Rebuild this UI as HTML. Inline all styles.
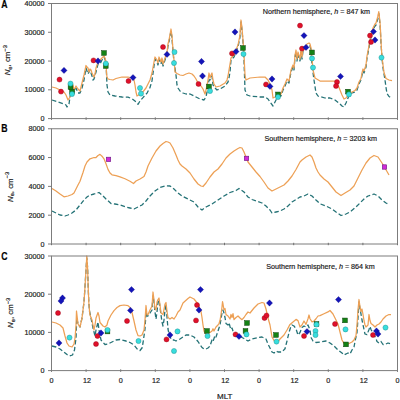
<!DOCTYPE html>
<html><head><meta charset="utf-8"><style>
html,body{margin:0;padding:0;background:#fff;width:400px;height:400px;overflow:hidden}
text{font-family:"Liberation Sans",sans-serif;fill:#1a1a1a;stroke:#1a1a1a;stroke-width:0.18px}
.tk{font-size:7.2px}
.tt{font-size:7px}
.pl{font-size:9px;font-weight:bold;fill:#000}
.ti{font-size:7.2px}
.ml{font-size:8px}
.yl{font-size:7.8px}
</style></head><body>
<svg width="400" height="400" viewBox="0 0 400 400" style="display:block">
<rect width="400" height="400" fill="#fff"/>
<line x1="48" y1="3.50" x2="51.5" y2="3.50" stroke="#7c7c7c" stroke-width="1"/>
<text x="44.5" y="6.10" text-anchor="end" class="tk">40000</text>
<line x1="48" y1="32.27" x2="51.5" y2="32.27" stroke="#7c7c7c" stroke-width="1"/>
<text x="44.5" y="34.88" text-anchor="end" class="tk">30000</text>
<line x1="48" y1="61.05" x2="51.5" y2="61.05" stroke="#7c7c7c" stroke-width="1"/>
<text x="44.5" y="63.65" text-anchor="end" class="tk">20000</text>
<line x1="48" y1="89.82" x2="51.5" y2="89.82" stroke="#7c7c7c" stroke-width="1"/>
<text x="44.5" y="92.42" text-anchor="end" class="tk">10000</text>
<line x1="48" y1="118.60" x2="51.5" y2="118.60" stroke="#7c7c7c" stroke-width="1"/>
<text x="44.5" y="121.20" text-anchor="end" class="tk">0</text>
<line x1="51.50" y1="117.40" x2="51.50" y2="119.80" stroke="#555" stroke-width="0.9"/>
<line x1="86.10" y1="117.40" x2="86.10" y2="119.80" stroke="#555" stroke-width="0.9"/>
<line x1="120.70" y1="117.40" x2="120.70" y2="119.80" stroke="#555" stroke-width="0.9"/>
<line x1="155.30" y1="117.40" x2="155.30" y2="119.80" stroke="#555" stroke-width="0.9"/>
<line x1="189.90" y1="117.40" x2="189.90" y2="119.80" stroke="#555" stroke-width="0.9"/>
<line x1="224.50" y1="117.40" x2="224.50" y2="119.80" stroke="#555" stroke-width="0.9"/>
<line x1="259.10" y1="117.40" x2="259.10" y2="119.80" stroke="#555" stroke-width="0.9"/>
<line x1="293.70" y1="117.40" x2="293.70" y2="119.80" stroke="#555" stroke-width="0.9"/>
<line x1="328.30" y1="117.40" x2="328.30" y2="119.80" stroke="#555" stroke-width="0.9"/>
<line x1="362.90" y1="117.40" x2="362.90" y2="119.80" stroke="#555" stroke-width="0.9"/>
<line x1="397.50" y1="117.40" x2="397.50" y2="119.80" stroke="#555" stroke-width="0.9"/>
<text transform="translate(1.2 7.8) scale(0.97 1.12)" class="pl">A</text>
<text x="262.7" y="14.2" class="ti">Northern hemisphere, <tspan font-style="italic">h</tspan> = 847 km</text>
<text transform="translate(10.2 60.2) rotate(-90)" text-anchor="middle" class="yl"><tspan font-style="italic">N</tspan><tspan font-size="5.8" dy="1.7">e</tspan><tspan dy="-1.7">, cm</tspan><tspan font-size="5.8" dy="-3.3">−3</tspan></text>
<line x1="48" y1="128.75" x2="51.5" y2="128.75" stroke="#7c7c7c" stroke-width="1"/>
<text x="44.5" y="131.35" text-anchor="end" class="tk">8000</text>
<line x1="48" y1="157.56" x2="51.5" y2="157.56" stroke="#7c7c7c" stroke-width="1"/>
<text x="44.5" y="160.16" text-anchor="end" class="tk">6000</text>
<line x1="48" y1="186.38" x2="51.5" y2="186.38" stroke="#7c7c7c" stroke-width="1"/>
<text x="44.5" y="188.97" text-anchor="end" class="tk">4000</text>
<line x1="48" y1="215.19" x2="51.5" y2="215.19" stroke="#7c7c7c" stroke-width="1"/>
<text x="44.5" y="217.79" text-anchor="end" class="tk">2000</text>
<line x1="48" y1="244.00" x2="51.5" y2="244.00" stroke="#7c7c7c" stroke-width="1"/>
<text x="44.5" y="246.60" text-anchor="end" class="tk">0</text>
<line x1="51.50" y1="242.80" x2="51.50" y2="245.20" stroke="#555" stroke-width="0.9"/>
<line x1="86.10" y1="242.80" x2="86.10" y2="245.20" stroke="#555" stroke-width="0.9"/>
<line x1="120.70" y1="242.80" x2="120.70" y2="245.20" stroke="#555" stroke-width="0.9"/>
<line x1="155.30" y1="242.80" x2="155.30" y2="245.20" stroke="#555" stroke-width="0.9"/>
<line x1="189.90" y1="242.80" x2="189.90" y2="245.20" stroke="#555" stroke-width="0.9"/>
<line x1="224.50" y1="242.80" x2="224.50" y2="245.20" stroke="#555" stroke-width="0.9"/>
<line x1="259.10" y1="242.80" x2="259.10" y2="245.20" stroke="#555" stroke-width="0.9"/>
<line x1="293.70" y1="242.80" x2="293.70" y2="245.20" stroke="#555" stroke-width="0.9"/>
<line x1="328.30" y1="242.80" x2="328.30" y2="245.20" stroke="#555" stroke-width="0.9"/>
<line x1="362.90" y1="242.80" x2="362.90" y2="245.20" stroke="#555" stroke-width="0.9"/>
<line x1="397.50" y1="242.80" x2="397.50" y2="245.20" stroke="#555" stroke-width="0.9"/>
<text transform="translate(1.2 131.8) scale(0.97 1.12)" class="pl">B</text>
<text x="264.5" y="140.5" class="ti">Southern hemisphere, <tspan font-style="italic">h</tspan> = 3203 km</text>
<text transform="translate(12.5 186.9) rotate(-90)" text-anchor="middle" class="yl"><tspan font-style="italic">N</tspan><tspan font-size="5.8" dy="1.7">e</tspan><tspan dy="-1.7">, cm</tspan><tspan font-size="5.8" dy="-3.3">−3</tspan></text>
<line x1="48" y1="256.00" x2="51.5" y2="256.00" stroke="#7c7c7c" stroke-width="1"/>
<text x="44.5" y="258.60" text-anchor="end" class="tk">30000</text>
<line x1="48" y1="294.20" x2="51.5" y2="294.20" stroke="#7c7c7c" stroke-width="1"/>
<text x="44.5" y="296.80" text-anchor="end" class="tk">20000</text>
<line x1="48" y1="332.40" x2="51.5" y2="332.40" stroke="#7c7c7c" stroke-width="1"/>
<text x="44.5" y="335.00" text-anchor="end" class="tk">10000</text>
<line x1="48" y1="370.60" x2="51.5" y2="370.60" stroke="#7c7c7c" stroke-width="1"/>
<text x="44.5" y="373.20" text-anchor="end" class="tk">0</text>
<line x1="51.50" y1="369.40" x2="51.50" y2="371.80" stroke="#555" stroke-width="0.9"/>
<line x1="86.10" y1="369.40" x2="86.10" y2="371.80" stroke="#555" stroke-width="0.9"/>
<line x1="120.70" y1="369.40" x2="120.70" y2="371.80" stroke="#555" stroke-width="0.9"/>
<line x1="155.30" y1="369.40" x2="155.30" y2="371.80" stroke="#555" stroke-width="0.9"/>
<line x1="189.90" y1="369.40" x2="189.90" y2="371.80" stroke="#555" stroke-width="0.9"/>
<line x1="224.50" y1="369.40" x2="224.50" y2="371.80" stroke="#555" stroke-width="0.9"/>
<line x1="259.10" y1="369.40" x2="259.10" y2="371.80" stroke="#555" stroke-width="0.9"/>
<line x1="293.70" y1="369.40" x2="293.70" y2="371.80" stroke="#555" stroke-width="0.9"/>
<line x1="328.30" y1="369.40" x2="328.30" y2="371.80" stroke="#555" stroke-width="0.9"/>
<line x1="362.90" y1="369.40" x2="362.90" y2="371.80" stroke="#555" stroke-width="0.9"/>
<line x1="397.50" y1="369.40" x2="397.50" y2="371.80" stroke="#555" stroke-width="0.9"/>
<text transform="translate(1.2 259.5) scale(0.97 1.12)" class="pl">C</text>
<text x="266.2" y="269.2" class="ti">Southern hemisphere, <tspan font-style="italic">h</tspan> = 864 km</text>
<text transform="translate(13.0 312.8) rotate(-90)" text-anchor="middle" class="yl"><tspan font-style="italic">N</tspan><tspan font-size="5.8" dy="1.7">e</tspan><tspan dy="-1.7">, cm</tspan><tspan font-size="5.8" dy="-3.3">−3</tspan></text>
<path d="M52,100 L58,102 L64,104 L66,105 L67,107 L69,104 L70,97 L71,92 L72,88 L73,86 L74,92 L76,88 L78,93 L80,93 L82,88 L84,80 L86,68 L88,74 L90,70 L92,76 L93,80 L94,79 L96,72 L98,64 L100,64 L102,60 L104,57 L106,62 L107,85 L108,92 L110,95 L115,96 L122,97 L128,97.2 L132,98.7 L135,101 L138,104.3 L140,101 L143,97.6 L147,93.1 L150,87.5 L152,80.7 L154,66 L155,59 L157,62 L158,65 L159,59 L161,64 L162,60 L163,66 L165,60 L167,54 L168,46 L169,42 L171,31 L172,38 L173,52 L174,62 L176,75 L177,85 L178,88 L180,91 L183,93 L186,94 L190,94 L196,97 L200,99 L204,100 L206,97 L207,92 L208,86 L209,80 L210,80 L211,77 L212,76 L213,85 L215,88 L217,90 L220,89 L225,86 L228,82 L229,78 L230,72 L231,60 L234,57 L236,52 L238,47 L240,37 L241,22 L242,30 L243,42 L244,60 L245,90 L247,95 L250,96 L260,97 L265,97 L268,99 L270,102 L273,106 L276,100 L278,97 L281,96 L283,90 L285,86 L287,81 L289,83 L291,72 L293,67 L294,70 L295,57 L296,52 L297,61 L298,54 L300,61 L301,52 L302,59 L303,51 L305,49 L307,46 L309,45 L310,46 L311,50 L312,65 L314,80 L316,93 L318,96 L325,98 L330,98 L335,100 L340,104 L342,106 L344,107 L346,103 L348,98 L350,93 L352,93 L355,92 L357,90 L359,84 L361,80 L362,75 L363,71 L364,73 L366,67 L367,58 L368,53 L370,42 L371,37 L373,30 L374.7,26.5 L376,25 L377.7,19 L378.8,13.5 L380,24 L381,43 L382,58 L383,68 L385,80 L386,87.5 L387,93.5 L389,96.5 L392,98" fill="none" stroke="#247276" stroke-width="1.3" stroke-dasharray="4.5,2.4" stroke-linejoin="round"/>
<path d="M52,87 L56,88 L60,90 L64,92 L66,95 L68,100 L70,97 L71,92 L72,87 L73,85 L74,90 L76,86 L78,89 L80,91 L82,83 L84,75 L86,65.5 L87,67 L88,68 L89,72 L90,69 L91,70 L92,73 L93,75 L94,77 L95,74 L96,68 L97,65 L98,62 L101,59 L103,57 L104,56 L105,58 L106,62 L106.5,73 L107,77 L108,79 L110,79.5 L113,80 L116,78.5 L122,77 L128,77 L132,78 L134,80 L135,85 L136,92 L137,96 L142,93 L146,88 L150,80 L152,73 L154,62 L155,57 L157,60 L158,63 L159,57 L161,62 L162,58 L163,64 L165,58 L167,52 L168,44 L169,40 L171,29 L172,36 L173,50 L174,60 L175,72 L177,73.5 L180,75 L183,75.5 L186,74 L189,73 L192,74 L194,76 L196,79 L198,83 L201,86 L203,89 L205,94 L206,90 L208,80 L209,73 L210,78 L211,75 L212,73 L213,80 L214,84 L216,87 L220,86 L225,83 L227,80 L228,76 L229,70 L230,64 L231,58 L234,55 L236,50 L238,45 L240,35 L241,20 L242,28 L243,40 L244,55 L245,75 L246,80 L250,78 L260,77 L265,77 L268,80 L270,84 L272,90 L273,98 L275,97 L278,95 L281,94 L283,88 L285,84 L287,79 L289,81 L291,70 L293,65 L294,68 L295,55 L296,50 L297,59 L298,52 L300,59 L301,50 L302,57 L303,49 L305,47 L307,44 L309,43 L310,44 L311,48 L312,58 L313,70 L315,78 L320,81 L330,81 L335,81 L338,85 L340,90 L342,95 L344,99 L346,98 L348,95 L352,92 L355,90.5 L357,88 L359,82 L361,78.5 L362,73 L363,69 L364,71 L366,65 L367,56 L368,51 L370,40 L371,35 L373,28 L374.7,24.5 L376,23 L377.7,17 L378.8,11.7 L380,22 L380.5,30 L381,41 L381.5,50 L382,57 L383,65 L384,72.5 L386,78.5 L389,80 L392,80.7" fill="none" stroke="#eda055" stroke-width="1.25" stroke-linejoin="round"/>
<path d="M64,67.25 L67.1,70.4 L64,73.55000000000001 L60.9,70.4 Z" fill="#1414b8" stroke="#0a0a80" stroke-width="0.3"/>
<circle cx="59.5" cy="79.6" r="2.5" fill="#e0102a" stroke="#9a0a1a" stroke-width="0.45"/>
<circle cx="61" cy="91.6" r="2.5" fill="#e0102a" stroke="#9a0a1a" stroke-width="0.45"/>
<rect x="68.15" y="84.65" width="4.7" height="4.7" fill="#148214" stroke="#0a400a" stroke-width="0.5"/>
<circle cx="70.5" cy="83.6" r="2.55" fill="#38dede" stroke="#1f8c8c" stroke-width="0.45"/>
<rect x="69.65" y="89.25" width="4.7" height="4.7" fill="#148214" stroke="#0a400a" stroke-width="0.5"/>
<circle cx="72" cy="94" r="2.55" fill="#38dede" stroke="#1f8c8c" stroke-width="0.45"/>
<circle cx="93.5" cy="60.4" r="2.5" fill="#e0102a" stroke="#9a0a1a" stroke-width="0.45"/>
<path d="M98,57.85 L101.1,61 L98,64.15 L94.9,61 Z" fill="#1414b8" stroke="#0a0a80" stroke-width="0.3"/>
<rect x="101.65" y="50.65" width="4.7" height="4.7" fill="#148214" stroke="#0a400a" stroke-width="0.5"/>
<rect x="103.45" y="63.65" width="4.7" height="4.7" fill="#148214" stroke="#0a400a" stroke-width="0.5"/>
<circle cx="105.8" cy="63.5" r="2.55" fill="#38dede" stroke="#1f8c8c" stroke-width="0.45"/>
<circle cx="128.5" cy="81" r="2.5" fill="#e0102a" stroke="#9a0a1a" stroke-width="0.45"/>
<path d="M133,74.44999999999999 L136.1,77.6 L133,80.75 L129.9,77.6 Z" fill="#1414b8" stroke="#0a0a80" stroke-width="0.3"/>
<circle cx="140" cy="88" r="2.55" fill="#38dede" stroke="#1f8c8c" stroke-width="0.45"/>
<circle cx="141" cy="93.6" r="2.55" fill="#38dede" stroke="#1f8c8c" stroke-width="0.45"/>
<circle cx="163" cy="47" r="2.5" fill="#e0102a" stroke="#9a0a1a" stroke-width="0.45"/>
<path d="M167,51.25 L170.1,54.4 L167,57.55 L163.9,54.4 Z" fill="#1414b8" stroke="#0a0a80" stroke-width="0.3"/>
<circle cx="174.5" cy="52" r="2.55" fill="#38dede" stroke="#1f8c8c" stroke-width="0.45"/>
<circle cx="174" cy="63" r="2.55" fill="#38dede" stroke="#1f8c8c" stroke-width="0.45"/>
<path d="M201.5,58.35 L204.6,61.5 L201.5,64.65 L198.4,61.5 Z" fill="#1414b8" stroke="#0a0a80" stroke-width="0.3"/>
<path d="M202.5,72.85 L205.6,76 L202.5,79.15 L199.4,76 Z" fill="#1414b8" stroke="#0a0a80" stroke-width="0.3"/>
<circle cx="198.5" cy="84" r="2.5" fill="#e0102a" stroke="#9a0a1a" stroke-width="0.45"/>
<rect x="206.65" y="84.15" width="4.7" height="4.7" fill="#148214" stroke="#0a400a" stroke-width="0.5"/>
<circle cx="210" cy="91" r="2.55" fill="#38dede" stroke="#1f8c8c" stroke-width="0.45"/>
<path d="M235,28.85 L238.1,32 L235,35.15 L231.9,32 Z" fill="#1414b8" stroke="#0a0a80" stroke-width="0.3"/>
<circle cx="232" cy="53.4" r="2.5" fill="#e0102a" stroke="#9a0a1a" stroke-width="0.45"/>
<path d="M236,48.45 L239.1,51.6 L236,54.75 L232.9,51.6 Z" fill="#1414b8" stroke="#0a0a80" stroke-width="0.3"/>
<rect x="240.65" y="45.65" width="4.7" height="4.7" fill="#148214" stroke="#0a400a" stroke-width="0.5"/>
<circle cx="243.5" cy="54" r="2.55" fill="#38dede" stroke="#1f8c8c" stroke-width="0.45"/>
<circle cx="266" cy="84.4" r="2.5" fill="#e0102a" stroke="#9a0a1a" stroke-width="0.45"/>
<path d="M272,75.85 L275.1,79 L272,82.15 L268.9,79 Z" fill="#1414b8" stroke="#0a0a80" stroke-width="0.3"/>
<path d="M270,83.25 L273.1,86.4 L270,89.55000000000001 L266.9,86.4 Z" fill="#1414b8" stroke="#0a0a80" stroke-width="0.3"/>
<rect x="275.65" y="92.05000000000001" width="4.7" height="4.7" fill="#148214" stroke="#0a400a" stroke-width="0.5"/>
<circle cx="278" cy="97" r="2.55" fill="#38dede" stroke="#1f8c8c" stroke-width="0.45"/>
<circle cx="300" cy="25.6" r="2.5" fill="#e0102a" stroke="#9a0a1a" stroke-width="0.45"/>
<path d="M304,32.45 L307.1,35.6 L304,38.75 L300.9,35.6 Z" fill="#1414b8" stroke="#0a0a80" stroke-width="0.3"/>
<circle cx="302" cy="48.6" r="2.5" fill="#e0102a" stroke="#9a0a1a" stroke-width="0.45"/>
<path d="M306,44.25 L309.1,47.4 L306,50.55 L302.9,47.4 Z" fill="#1414b8" stroke="#0a0a80" stroke-width="0.3"/>
<rect x="309.65" y="50.05" width="4.7" height="4.7" fill="#148214" stroke="#0a400a" stroke-width="0.5"/>
<circle cx="312" cy="58.4" r="2.55" fill="#38dede" stroke="#1f8c8c" stroke-width="0.45"/>
<circle cx="313" cy="67.6" r="2.55" fill="#38dede" stroke="#1f8c8c" stroke-width="0.45"/>
<path d="M340.5,73.25 L343.6,76.4 L340.5,79.55000000000001 L337.4,76.4 Z" fill="#1414b8" stroke="#0a0a80" stroke-width="0.3"/>
<circle cx="337" cy="82" r="2.5" fill="#e0102a" stroke="#9a0a1a" stroke-width="0.45"/>
<circle cx="336" cy="86" r="2.5" fill="#e0102a" stroke="#9a0a1a" stroke-width="0.45"/>
<rect x="345.65" y="89.25" width="4.7" height="4.7" fill="#148214" stroke="#0a400a" stroke-width="0.5"/>
<circle cx="349" cy="94.4" r="2.55" fill="#38dede" stroke="#1f8c8c" stroke-width="0.45"/>
<path d="M373.5,28.450000000000003 L376.6,31.6 L373.5,34.75 L370.4,31.6 Z" fill="#1414b8" stroke="#0a0a80" stroke-width="0.3"/>
<circle cx="370" cy="35.6" r="2.5" fill="#e0102a" stroke="#9a0a1a" stroke-width="0.45"/>
<path d="M375,36.85 L378.1,40 L375,43.15 L371.9,40 Z" fill="#1414b8" stroke="#0a0a80" stroke-width="0.3"/>
<circle cx="371" cy="42" r="2.5" fill="#e0102a" stroke="#9a0a1a" stroke-width="0.45"/>
<circle cx="381.5" cy="57.6" r="2.55" fill="#38dede" stroke="#1f8c8c" stroke-width="0.45"/>
<path d="M52,211 L56,213 L60,215 L65,216 L68,215 L72,213 L76,210 L80,205 L84,200 L87,197 L90,195 L94,194 L99,192.5 L102,195 L106,199 L111,203.5 L115,204 L120,205 L126,207 L130,208 L134,209 L138,207 L142,205 L146,201 L150,196 L155,191 L160,187.5 L166,185.8 L170,186 L174,189 L178,193 L182,196 L188,199 L194,202 L198,207 L202,210 L206,207 L212,204 L218,200 L224,196 L230,192.5 L236,190.5 L239,188.5 L244,192 L248,197 L252,199.5 L256,201 L262,203 L266,206 L270,210 L272,213 L276,212 L280,211 L284,209 L288,206 L292,202 L296,199.5 L300,197 L304,196 L308,194 L312,196 L316,200 L320,203.8 L326,206 L332,209 L336,212 L341,215.5 L346,214 L350,212 L356,207 L360,203 L364,199 L368,196 L374,194 L378,196 L382,200 L386,203 L389,204.5" fill="none" stroke="#247276" stroke-width="1.3" stroke-dasharray="4.5,2.4" stroke-linejoin="round"/>
<path d="M52,188.4 L56,191 L60,194 L64,196.8 L68,196 L72,194.5 L74,193 L76,189 L78,185 L80,181.2 L83,172.5 L85,166 L87,162 L90,158.8 L94,157.5 L96,157.5 L98,155.5 L100,154.4 L102,156.2 L104,158.8 L106,163.8 L108,169.4 L110,173 L112,174.8 L116,175.6 L120,176.9 L125,178.75 L130,181.25 L133.5,183.5 L136,181 L140,179 L144,176.5 L146,172 L148,166 L152,158 L156,151 L160,146 L163,143.5 L166,141.5 L168,142 L170,143 L173,148 L176,155 L178,160 L180,164 L182,166 L186,169 L190,173 L194,179 L198,184 L201,186 L203,186.5 L206,183 L210,177 L214,172 L218,169 L222,164 L226,158 L230,154 L234,151 L238,148.5 L240,147.5 L242,148 L244,152 L246,157 L248,162 L252,167 L256,172 L260,176.5 L264,182 L268,188 L272,191 L276,189 L280,187 L284,185 L288,181 L292,176 L296,169.5 L300,162 L302,160 L306,157 L310,155 L312,157 L314,162 L316,168 L318,172 L320,175 L324,179 L328,182 L332,187 L336,192 L341,195.5 L345,193 L350,190 L354,186 L358,178 L362,170 L366,163 L370,158 L374,155.5 L378,157 L382,163 L385,168 L389,175" fill="none" stroke="#eda055" stroke-width="1.25" stroke-linejoin="round"/>
<rect x="106.3" y="157.20000000000002" width="4.4" height="4.4" fill="#d22ad8" stroke="#6a1a80" stroke-width="0.6"/>
<rect x="244.3" y="156.20000000000002" width="4.4" height="4.4" fill="#d22ad8" stroke="#6a1a80" stroke-width="0.6"/>
<rect x="382.3" y="164.8" width="4.4" height="4.4" fill="#d22ad8" stroke="#6a1a80" stroke-width="0.6"/>
<path d="M52,346 L56,347 L60,349 L64,352 L67,354.5 L69.5,356 L72.5,355 L74.5,350 L76,338 L76.8,318 L78,324 L80,327 L82,318 L84,302 L85,287 L86,270 L86.8,258 L87.6,268 L88.3,290 L88.8,302 L89.5,311 L91,318 L93,328 L95,336 L96,330 L98,322 L99,330 L101,340 L105,344.5 L108,344 L112,342 L116,340 L120,339.5 L126,341 L130,342.5 L134,345 L138,350 L140,350.5 L142,348 L143,343 L144,336 L145,329 L146,312 L147,316 L148,316 L150,313 L152,310 L153,296 L154,302 L155,312 L156,319 L157,312 L158,302 L159,300 L160,307 L161,315 L162,322 L163,326 L164,320 L165,310 L166,305 L167,317 L168,329 L169,334 L170,337 L172,340 L174,340 L176,341 L178,340 L180,339 L186,335 L190,335 L194,337 L198,341.5 L200,344.5 L202,347.5 L204,349 L206,349 L208,348 L210,346 L211,343 L212,340 L213,341.5 L214,338.5 L215,335.5 L216,337 L217,334 L219,328 L220,325 L221,319 L222,313 L223,310 L224,313 L225,317.5 L226,323.5 L228,325 L229,322.7 L230,326.5 L231,329.5 L232,328 L233,331 L234,332.5 L236,333 L238,335.5 L241,337 L244,338.5 L248,341 L252,339 L258,337.5 L262,337 L266,339 L268,344 L270,348 L272,352 L274,353 L276,351 L278,352 L282,352 L285,348.75 L287,341 L289,332.5 L291,326 L292,325 L294,326 L296,328.75 L298,335 L300,332.5 L302,327.5 L304,326 L306,327 L308,325 L310,330 L311,337.5 L313,341 L316,342.5 L320,342 L326,341 L330,343 L334,346 L338,350 L342,353 L344,355 L348,353 L350,354 L352,350 L354,347 L355,341.5 L357,332.5 L358,318 L359,302 L360,309 L361,314 L362,320 L364,329.5 L365,334 L367,334.7 L369,329.5 L370,326.5 L371,329.5 L373,333 L376,338.5 L377,341.5 L379,343 L381,341.5 L383,344.5 L385,344.5 L388,343 L390,343.7" fill="none" stroke="#247276" stroke-width="1.3" stroke-dasharray="4.5,2.4" stroke-linejoin="round"/>
<path d="M52,322 L56,323 L60,325 L63,328 L65,336 L67,343 L69,346 L72,347 L74,344 L75,338 L76,326 L76.5,311 L78,324 L80,327 L82,318 L84,302 L85,287 L86,270 L86.8,256 L87.6,268 L88.3,290 L88.8,302 L89.5,311 L90,315 L92,320 L93,325 L94,330 L95,325 L96,318 L98,312.5 L99,316 L100,322.5 L103,326 L105,327 L107,325 L108,321 L111,315 L114,310.6 L117,307.5 L120,305.6 L124,305 L128,305.6 L130,307.5 L132,312.5 L134,321 L136,330 L138,335.6 L140,336 L142,335 L144,330 L145,320 L146,305.5 L147,315 L148,314.5 L150,310 L152,306 L153,292 L154,300 L155,308.5 L156,310 L157,302 L158,299.5 L159,298 L160,305 L161,313 L163,314.5 L165,304 L166,302.5 L167,311.5 L168,317.5 L170,319 L172,317.5 L174,319 L176,316 L178,312 L180,310 L183,303 L188,298.5 L190,297 L194,299 L198,304 L201,311.5 L202,317.5 L203,325 L204,331 L205,333 L207,334 L210,332.5 L212,331 L213,328.7 L214,331 L216,327 L218,325 L219,323.5 L220,320.5 L221,314.5 L222,307 L222.5,301.7 L223,304 L224,310 L225,308.5 L226,314.5 L228,316 L230,319 L231,314.5 L232,317.5 L233,313.7 L234,319.7 L236,317.5 L238,316 L240,318 L242,319.7 L244,317.5 L246,314.5 L248,312 L250,313 L254,308 L258,304 L262,302.5 L264,303 L266,309 L268,318 L270,325 L272,337 L274,340.5 L278,341.5 L280,339 L284,335 L287,330 L290,324.4 L293,321.9 L296,319.4 L298,320.6 L300,327 L302,325 L304,321 L306,324.4 L308,318.75 L309,315 L310,318.75 L312,321.9 L314,321 L316,318.75 L318,316 L320,315.6 L324,313.75 L328,311.9 L330,310.5 L333,314 L336,320 L338,324 L340,332 L342,340 L344,343.5 L348,344 L352,342 L354,340 L356,335.5 L357,325 L358,310 L359,299.5 L360,307 L361,311.5 L362,309 L363,314.5 L364,320.5 L365,325 L366,327 L368,325 L369,314.5 L370,320.5 L371,323.5 L373,325 L375,327 L377,325 L379,324 L381,322 L383,319 L386,316 L389,314.5 L391,314.5" fill="none" stroke="#eda055" stroke-width="1.25" stroke-linejoin="round"/>
<path d="M62.5,294.85 L65.6,298 L62.5,301.15 L59.4,298 Z" fill="#1414b8" stroke="#0a0a80" stroke-width="0.3"/>
<path d="M61,297.85 L64.1,301 L61,304.15 L57.9,301 Z" fill="#1414b8" stroke="#0a0a80" stroke-width="0.3"/>
<circle cx="58" cy="313" r="2.5" fill="#e0102a" stroke="#9a0a1a" stroke-width="0.45"/>
<circle cx="69.5" cy="337.6" r="2.55" fill="#38dede" stroke="#1f8c8c" stroke-width="0.45"/>
<path d="M59,339.85 L62.1,343 L59,346.15 L55.9,343 Z" fill="#1414b8" stroke="#0a0a80" stroke-width="0.3"/>
<circle cx="97.5" cy="336" r="2.5" fill="#e0102a" stroke="#9a0a1a" stroke-width="0.45"/>
<path d="M101,329.85 L104.1,333 L101,336.15 L97.9,333 Z" fill="#1414b8" stroke="#0a0a80" stroke-width="0.3"/>
<circle cx="96" cy="344" r="2.5" fill="#e0102a" stroke="#9a0a1a" stroke-width="0.45"/>
<rect x="105.15" y="329.15" width="4.7" height="4.7" fill="#148214" stroke="#0a400a" stroke-width="0.5"/>
<circle cx="107.5" cy="330" r="2.55" fill="#38dede" stroke="#1f8c8c" stroke-width="0.45"/>
<circle cx="127" cy="321" r="2.5" fill="#e0102a" stroke="#9a0a1a" stroke-width="0.45"/>
<path d="M131.5,286.45000000000005 L134.6,289.6 L131.5,292.75 L128.4,289.6 Z" fill="#1414b8" stroke="#0a0a80" stroke-width="0.3"/>
<path d="M130.5,307.25 L133.6,310.4 L130.5,313.54999999999995 L127.4,310.4 Z" fill="#1414b8" stroke="#0a0a80" stroke-width="0.3"/>
<circle cx="138.5" cy="341" r="2.55" fill="#38dede" stroke="#1f8c8c" stroke-width="0.45"/>
<path d="M170,331.85 L173.1,335 L170,338.15 L166.9,335 Z" fill="#1414b8" stroke="#0a0a80" stroke-width="0.3"/>
<circle cx="166.5" cy="339.4" r="2.5" fill="#e0102a" stroke="#9a0a1a" stroke-width="0.45"/>
<circle cx="177.5" cy="331.4" r="2.55" fill="#38dede" stroke="#1f8c8c" stroke-width="0.45"/>
<circle cx="174" cy="351" r="2.55" fill="#38dede" stroke="#1f8c8c" stroke-width="0.45"/>
<path d="M200.5,286.45000000000005 L203.6,289.6 L200.5,292.75 L197.4,289.6 Z" fill="#1414b8" stroke="#0a0a80" stroke-width="0.3"/>
<circle cx="197" cy="305" r="2.5" fill="#e0102a" stroke="#9a0a1a" stroke-width="0.45"/>
<path d="M199,306.85 L202.1,310 L199,313.15 L195.9,310 Z" fill="#1414b8" stroke="#0a0a80" stroke-width="0.3"/>
<circle cx="196" cy="320.4" r="2.5" fill="#e0102a" stroke="#9a0a1a" stroke-width="0.45"/>
<rect x="204.65" y="328.65" width="4.7" height="4.7" fill="#148214" stroke="#0a400a" stroke-width="0.5"/>
<circle cx="207.5" cy="336" r="2.55" fill="#38dede" stroke="#1f8c8c" stroke-width="0.45"/>
<circle cx="235.5" cy="334.4" r="2.5" fill="#e0102a" stroke="#9a0a1a" stroke-width="0.45"/>
<path d="M239,333.25 L242.1,336.4 L239,339.54999999999995 L235.9,336.4 Z" fill="#1414b8" stroke="#0a0a80" stroke-width="0.3"/>
<rect x="244.65" y="320.65" width="4.7" height="4.7" fill="#148214" stroke="#0a400a" stroke-width="0.5"/>
<rect x="243.15" y="328.65" width="4.7" height="4.7" fill="#148214" stroke="#0a400a" stroke-width="0.5"/>
<circle cx="246.5" cy="334.4" r="2.55" fill="#38dede" stroke="#1f8c8c" stroke-width="0.45"/>
<circle cx="264.5" cy="318" r="2.5" fill="#e0102a" stroke="#9a0a1a" stroke-width="0.45"/>
<circle cx="266.5" cy="315.5" r="2.5" fill="#e0102a" stroke="#9a0a1a" stroke-width="0.45"/>
<path d="M269.5,299.85 L272.6,303 L269.5,306.15 L266.4,303 Z" fill="#1414b8" stroke="#0a0a80" stroke-width="0.3"/>
<rect x="273.65" y="332.65" width="4.7" height="4.7" fill="#148214" stroke="#0a400a" stroke-width="0.5"/>
<circle cx="276.5" cy="341.6" r="2.55" fill="#38dede" stroke="#1f8c8c" stroke-width="0.45"/>
<circle cx="304" cy="336" r="2.5" fill="#e0102a" stroke="#9a0a1a" stroke-width="0.45"/>
<path d="M307,328.45000000000005 L310.1,331.6 L307,334.75 L303.9,331.6 Z" fill="#1414b8" stroke="#0a0a80" stroke-width="0.3"/>
<rect x="314.15" y="321.65" width="4.7" height="4.7" fill="#148214" stroke="#0a400a" stroke-width="0.5"/>
<circle cx="316.5" cy="324.5" r="2.55" fill="#38dede" stroke="#1f8c8c" stroke-width="0.45"/>
<circle cx="315.5" cy="331" r="2.55" fill="#38dede" stroke="#1f8c8c" stroke-width="0.45"/>
<circle cx="315.5" cy="335" r="2.55" fill="#38dede" stroke="#1f8c8c" stroke-width="0.45"/>
<circle cx="335" cy="324" r="2.5" fill="#e0102a" stroke="#9a0a1a" stroke-width="0.45"/>
<path d="M338.5,296.45000000000005 L341.6,299.6 L338.5,302.75 L335.4,299.6 Z" fill="#1414b8" stroke="#0a0a80" stroke-width="0.3"/>
<rect x="342.65" y="318.04999999999995" width="4.7" height="4.7" fill="#148214" stroke="#0a400a" stroke-width="0.5"/>
<circle cx="345.5" cy="329.4" r="2.55" fill="#38dede" stroke="#1f8c8c" stroke-width="0.45"/>
<rect x="343.65" y="342.04999999999995" width="4.7" height="4.7" fill="#148214" stroke="#0a400a" stroke-width="0.5"/>
<circle cx="373" cy="335" r="2.5" fill="#e0102a" stroke="#9a0a1a" stroke-width="0.45"/>
<path d="M376.5,327.85 L379.6,331 L376.5,334.15 L373.4,331 Z" fill="#1414b8" stroke="#0a0a80" stroke-width="0.3"/>
<path d="M378,330.85 L381.1,334 L378,337.15 L374.9,334 Z" fill="#1414b8" stroke="#0a0a80" stroke-width="0.3"/>
<circle cx="385.5" cy="327.6" r="2.55" fill="#38dede" stroke="#1f8c8c" stroke-width="0.45"/>
<rect x="51.5" y="3.5" width="346.0" height="115.1" fill="none" stroke="#7c7c7c" stroke-width="1"/>
<rect x="51.5" y="128.75" width="346.0" height="115.25" fill="none" stroke="#7c7c7c" stroke-width="1"/>
<rect x="51.5" y="256" width="346.0" height="114.60000000000002" fill="none" stroke="#7c7c7c" stroke-width="1"/>
<text x="51.50" y="383" text-anchor="middle" class="tk">0</text>
<text x="86.90" y="383" text-anchor="middle" class="tk">12</text>
<text x="120.70" y="383" text-anchor="middle" class="tk">0</text>
<text x="156.10" y="383" text-anchor="middle" class="tk">12</text>
<text x="189.90" y="383" text-anchor="middle" class="tk">0</text>
<text x="225.30" y="383" text-anchor="middle" class="tk">12</text>
<text x="259.10" y="383" text-anchor="middle" class="tk">0</text>
<text x="294.50" y="383" text-anchor="middle" class="tk">12</text>
<text x="328.30" y="383" text-anchor="middle" class="tk">0</text>
<text x="363.70" y="383" text-anchor="middle" class="tk">12</text>
<text x="397.50" y="383" text-anchor="middle" class="tk">0</text>
<text x="224.75" y="399" text-anchor="middle" class="ml">MLT</text>
</svg>
</body></html>
